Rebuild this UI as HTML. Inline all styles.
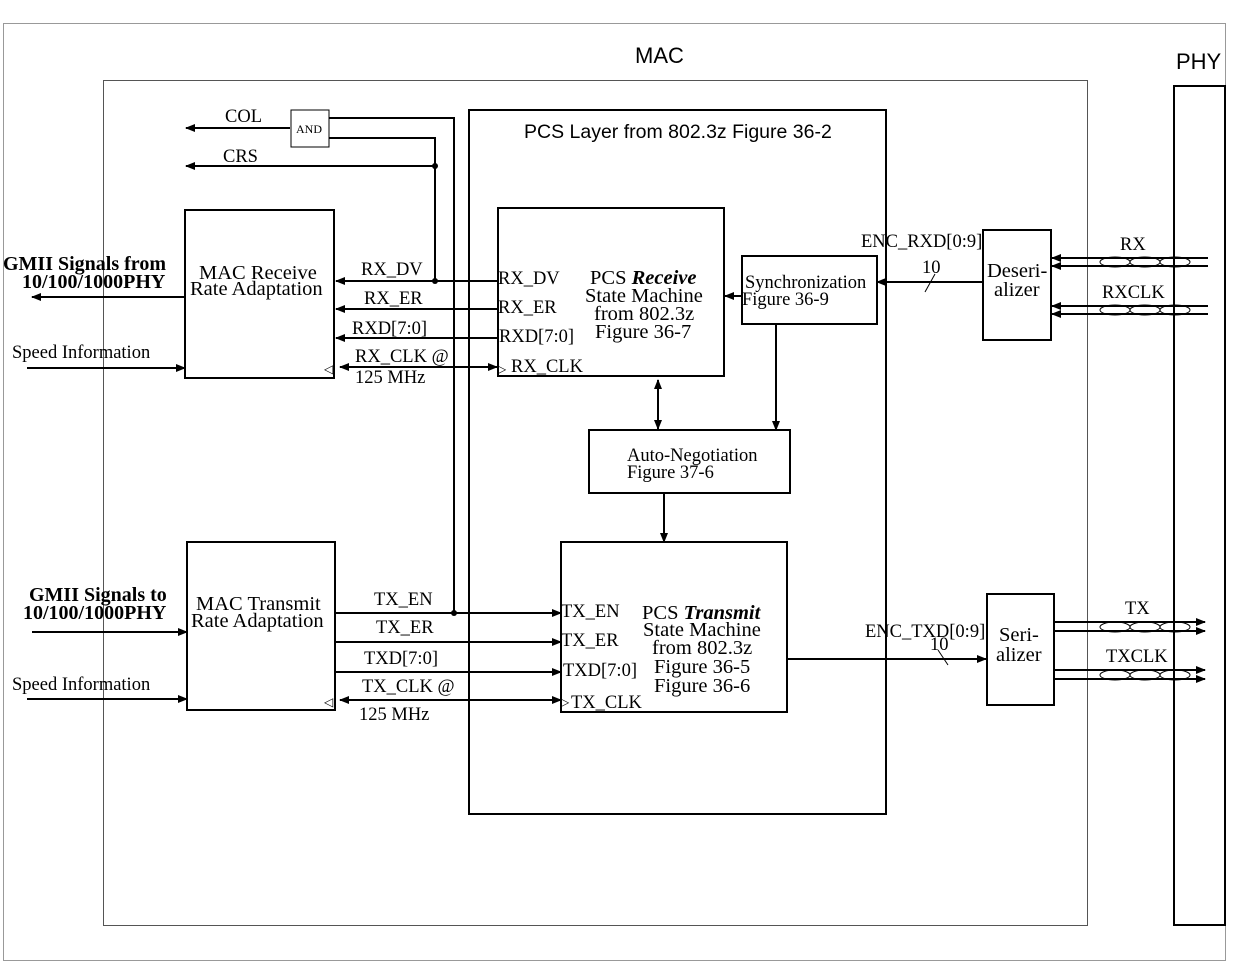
<!DOCTYPE html>
<html><head><style>body{margin:0;background:#fff}svg{display:block}text{font-family:"Liberation Serif",serif;font-size:18.5px;fill:#000}.s{font-family:"Liberation Sans",sans-serif;font-size:19px}.m{font-size:20.5px}.g{font-size:20px;font-weight:bold}</style></head><body>
<svg width="1241" height="966" viewBox="0 0 1241 966">
<defs>
<marker id="a" markerWidth="10" markerHeight="8" refX="9" refY="4" orient="auto" markerUnits="userSpaceOnUse"><path d="M0,0L10,4L0,8z" fill="#000"/></marker>
<marker id="b" markerWidth="10" markerHeight="8" refX="1" refY="4" orient="auto" markerUnits="userSpaceOnUse"><path d="M10,0L0,4L10,8z" fill="#000"/></marker>
</defs>
<rect x="3.5" y="23.5" width="1222" height="937" fill="none" stroke="#999" stroke-width="1"/>
<rect x="103.5" y="80.5" width="984" height="845" fill="none" stroke="#555" stroke-width="1"/>
<text x="635" y="63" class="s" style="font-size:22px">MAC</text>
<text x="1176" y="69" class="s" style="font-size:22px">PHY</text>
<rect x="1174" y="86" width="51" height="839" fill="none" stroke="#000" stroke-width="2"/>
<g fill="none" stroke="#000" stroke-width="2">
<rect x="469" y="110" width="417" height="704"/>
<rect x="498" y="208" width="226" height="168"/>
<rect x="742" y="256" width="135" height="68"/>
<rect x="983" y="230" width="68" height="110"/>
<rect x="589" y="430" width="201" height="63"/>
<rect x="561" y="542" width="226" height="170"/>
<rect x="987" y="594" width="67" height="111"/>
<rect x="185" y="210" width="149" height="168"/>
<rect x="187" y="542" width="148" height="168"/>
</g>
<rect x="291" y="110" width="38" height="37" fill="none" stroke="#000" stroke-width="1"/>
<text x="296" y="133" style="font-size:12px">AND</text>
<g stroke="#000" stroke-width="2" fill="none">
<line x1="290" y1="128" x2="186" y2="128" marker-end="url(#a)"/>
<polyline points="329,118 454,118 454,613"/>
<polyline points="329,138 435,138 435,281"/>
<line x1="435" y1="166" x2="186" y2="166" marker-end="url(#a)"/>
<line x1="498" y1="281" x2="336" y2="281" marker-end="url(#a)"/>
<line x1="498" y1="309" x2="336" y2="309" marker-end="url(#a)"/>
<line x1="498" y1="338" x2="336" y2="338" marker-end="url(#a)"/>
<line x1="340" y1="367" x2="497" y2="367" marker-start="url(#b)" marker-end="url(#a)"/>
<line x1="185" y1="297" x2="32" y2="297" marker-end="url(#a)"/>
<line x1="27" y1="368" x2="185" y2="368" marker-end="url(#a)"/>
<line x1="32" y1="632" x2="187" y2="632" marker-end="url(#a)"/>
<line x1="27" y1="699" x2="187" y2="699" marker-end="url(#a)"/>
<line x1="335" y1="613" x2="561" y2="613" marker-end="url(#a)"/>
<line x1="335" y1="642" x2="561" y2="642" marker-end="url(#a)"/>
<line x1="335" y1="672" x2="561" y2="672" marker-end="url(#a)"/>
<line x1="340" y1="700" x2="561" y2="700" marker-start="url(#b)" marker-end="url(#a)"/>
<line x1="742" y1="296" x2="725" y2="296" marker-end="url(#a)"/>
<line x1="983" y1="282" x2="877" y2="282" marker-end="url(#a)"/>
<line x1="658" y1="380" x2="658" y2="429" marker-start="url(#b)" marker-end="url(#a)"/>
<line x1="776" y1="324" x2="776" y2="430" marker-end="url(#a)"/>
<line x1="664" y1="493" x2="664" y2="542" marker-end="url(#a)"/>
<line x1="787" y1="659" x2="986" y2="659" marker-end="url(#a)"/>
<line x1="1208" y1="258" x2="1052" y2="258" marker-end="url(#a)"/>
<line x1="1208" y1="266" x2="1052" y2="266" marker-end="url(#a)"/>
<line x1="1208" y1="306" x2="1052" y2="306" marker-end="url(#a)"/>
<line x1="1208" y1="314" x2="1052" y2="314" marker-end="url(#a)"/>
<line x1="1054" y1="622" x2="1205" y2="622" marker-end="url(#a)"/>
<line x1="1054" y1="631" x2="1205" y2="631" marker-end="url(#a)"/>
<line x1="1054" y1="670" x2="1205" y2="670" marker-end="url(#a)"/>
<line x1="1054" y1="679" x2="1205" y2="679" marker-end="url(#a)"/>
</g>
<g stroke="#000" stroke-width="1" fill="none">
<ellipse cx="1115" cy="262" rx="15" ry="5"/><ellipse cx="1145" cy="262" rx="15" ry="5"/><ellipse cx="1175" cy="262" rx="15" ry="5"/>
<ellipse cx="1115" cy="310" rx="15" ry="5"/><ellipse cx="1145" cy="310" rx="15" ry="5"/><ellipse cx="1175" cy="310" rx="15" ry="5"/>
<ellipse cx="1115" cy="627" rx="15" ry="5"/><ellipse cx="1145" cy="627" rx="15" ry="5"/><ellipse cx="1175" cy="627" rx="15" ry="5"/>
<ellipse cx="1115" cy="675" rx="15" ry="5"/><ellipse cx="1145" cy="675" rx="15" ry="5"/><ellipse cx="1175" cy="675" rx="15" ry="5"/>
<line x1="925" y1="292" x2="935" y2="274"/>
<line x1="938" y1="650" x2="948" y2="665"/>
</g>
<circle cx="435" cy="166" r="3"/><circle cx="435" cy="281" r="3"/><circle cx="454" cy="613" r="3"/>
<text x="225" y="122">COL</text><text x="223" y="162">CRS</text>
<text x="199" y="279" class="m">MAC Receive</text><text x="190" y="295" class="m">Rate Adaptation</text>
<text x="196" y="610" class="m">MAC Transmit</text><text x="191" y="627" class="m">Rate Adaptation</text>
<text x="3" y="270" class="g">GMII Signals from</text><text x="22" y="288" class="g">10/100/1000PHY</text>
<text x="29" y="601" class="g">GMII Signals to</text><text x="23" y="619" class="g">10/100/1000PHY</text>
<text x="12" y="358">Speed Information</text><text x="12" y="690">Speed Information</text>
<text x="361" y="275">RX_DV</text><text x="364" y="304">RX_ER</text><text x="352" y="334">RXD[7:0]</text><text x="355" y="362">RX_CLK @</text><text x="355" y="383">125 MHz</text>
<text x="374" y="605">TX_EN</text><text x="376" y="633">TX_ER</text><text x="364" y="664">TXD[7:0]</text><text x="362" y="692">TX_CLK @</text><text x="359" y="720">125 MHz</text>
<text x="524" y="138" class="s" style="font-size:19.5px">PCS Layer from 802.3z Figure 36-2</text>
<text x="498" y="284">RX_DV</text><text x="498" y="313">RX_ER</text><text x="499" y="342">RXD[7:0]</text><text x="511" y="372">RX_CLK</text>
<text x="590" y="284" class="m">PCS <tspan font-weight="bold" font-style="italic">Receive</tspan></text><text x="585" y="302" class="m">State Machine</text><text x="594" y="320" class="m">from 802.3z</text><text x="595" y="338" class="m">Figure 36-7</text>
<text x="745" y="288">Synchronization</text><text x="742" y="305">Figure 36-9</text>
<text x="861" y="247">ENC_RXD[0:9]</text><text x="922" y="273">10</text>
<text x="987" y="277" class="m">Deseri-</text><text x="994" y="296" class="m">alizer</text>
<text x="1120" y="250">RX</text><text x="1102" y="298">RXCLK</text>
<text x="627" y="461">Auto-Negotiation</text><text x="627" y="478">Figure 37-6</text>
<text x="561" y="617">TX_EN</text><text x="561" y="646">TX_ER</text><text x="563" y="676">TXD[7:0]</text><text x="571" y="708">TX_CLK</text>
<text x="642" y="619" class="m">PCS <tspan font-weight="bold" font-style="italic">Transmit</tspan></text><text x="643" y="636" class="m">State Machine</text><text x="652" y="654" class="m">from 802.3z</text><text x="654" y="673" class="m">Figure 36-5</text><text x="654" y="692" class="m">Figure 36-6</text>
<text x="865" y="637">ENC_TXD[0:9]</text><text x="930" y="650">10</text>
<text x="999" y="641" class="m">Seri-</text><text x="996" y="661" class="m">alizer</text>
<text x="1125" y="614">TX</text><text x="1106" y="662">TXCLK</text>
<text x="324" y="373" style="font-size:12px">◁</text><text x="324" y="706" style="font-size:12px">◁</text>
<text x="497" y="373" style="font-size:12px">▷</text><text x="560" y="706" style="font-size:12px">▷</text>
</svg>
</body></html>
